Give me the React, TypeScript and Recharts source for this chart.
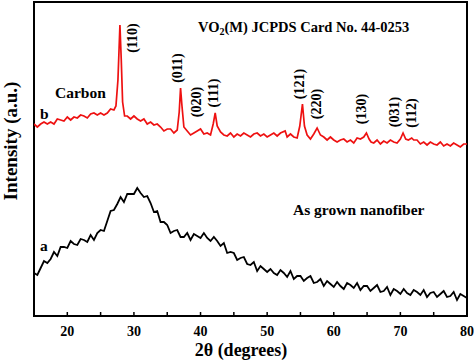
import React from 'react'
import { LineChart, Line, XAxis, YAxis, ReferenceDot, ReferenceArea } from 'recharts'

// 2θ positions and intensities (a.u.)
const carbonTheta = [
  15, 15.5, 16, 16.5, 17, 17.5, 18, 18.5, 19, 19.5, 20, 20.5, 21, 21.5, 22, 22.5, 23, 23.5, 24, 24.5,
  25, 25.5, 26, 26.5, 27, 27.3, 27.6, 27.9, 28.1, 28.3, 28.6, 29, 29.5, 30, 30.5, 31, 31.5, 32, 32.5, 33,
  33.5, 34, 34.5, 35, 35.5, 36, 36.5, 36.8, 37.0, 37.2, 37.5, 38, 38.5, 39, 39.5, 40, 40.5, 41, 41.5, 41.9,
  42.2, 42.5, 43, 43.5, 44, 44.5, 45, 45.5, 46, 46.5, 47, 47.5, 48, 48.5, 49, 49.5, 50, 50.5, 51, 51.5,
  52, 52.7, 53, 53.5, 54, 54.5, 54.9, 55.3, 55.6, 56, 56.5, 57, 57.5, 58, 58.5, 59, 59.5, 60, 60.5, 61,
  61.5, 62, 62.5, 63, 63.5, 64, 64.5, 64.9, 65.3, 65.6, 66, 66.5, 67, 67.5, 68, 68.5, 69, 69.5, 70, 70.4,
  70.8, 71.2, 71.7, 72, 72.5, 73, 73.5, 74, 74.5, 75, 75.5, 76, 76.5, 77, 77.5, 78, 78.5, 79, 79.5, 80,
]
const carbonIntensity = [
  192, 189, 192, 194, 192, 194, 192, 197, 196, 195, 199, 196, 199, 198, 201, 200, 198, 202, 203, 201,
  203, 201, 203, 207, 206, 210, 236, 291, 256, 214, 200, 200, 197, 200, 197, 195, 197, 192, 194, 191,
  192, 189, 185, 187, 187, 183, 186, 204, 228, 211, 189, 185, 181, 183, 185, 187, 182, 183, 181, 192,
  203, 190, 184, 181, 180, 183, 179, 182, 180, 183, 181, 179, 182, 183, 180, 182, 179, 181, 183, 180,
  183, 185, 179, 182, 179, 178, 190, 212, 190, 181, 177, 182, 188, 181, 179, 176, 179, 176, 174, 176,
  177, 174, 176, 173, 178, 177, 179, 183, 177, 174, 173, 176, 172, 175, 173, 176, 174, 173, 177, 183,
  177, 176, 178, 176, 176, 172, 174, 171, 174, 172, 171, 174, 170, 172, 170, 173, 171, 169, 172, 172,
]

const fiberTheta = [
  15, 15.5, 16, 16.5, 17, 17.5, 18, 18.5, 19, 19.5, 20, 20.5, 21, 21.5, 22, 22.5, 23, 23.5, 24, 24.5,
  25, 25.5, 26, 26.5, 27, 27.5, 28, 28.5, 29, 29.5, 30, 30.5, 31, 31.5, 32, 32.5, 33, 33.5, 34, 34.5,
  35, 35.5, 36, 36.5, 37, 37.5, 38, 38.5, 39, 39.5, 40, 40.5, 41, 41.5, 42, 42.5, 43, 43.5, 44, 44.5,
  45, 45.5, 46, 46.5, 47, 47.5, 48, 48.5, 49, 49.5, 50, 50.5, 51, 51.5, 52, 52.5, 53, 53.5, 54, 54.5,
  55, 55.5, 56, 56.5, 57, 57.5, 58, 58.5, 59, 59.5, 60, 60.5, 61, 61.5, 62, 62.5, 63, 63.5, 64, 64.5,
  65, 65.5, 66, 66.5, 67, 67.5, 68, 68.5, 69, 69.5, 70, 70.5, 71, 71.5, 72, 72.5, 73, 73.5, 74, 74.5,
  75, 75.5, 76, 76.5, 77, 77.5, 78, 78.5, 79, 79.5, 80,
]
const fiberIntensity = [
  43, 41, 48, 55, 53, 57, 64, 60, 69, 69, 68, 75, 72, 71, 77, 76, 74, 81, 76, 83,
  86, 85, 95, 105, 106, 112, 119, 114, 122, 122, 122, 128, 123, 119, 120, 113, 104, 105, 94, 94,
  91, 83, 85, 86, 79, 79, 83, 76, 82, 80, 78, 83, 78, 75, 79, 75, 70, 73, 63, 64,
  63, 56, 58, 59, 52, 51, 54, 45, 50, 47, 44, 47, 43, 41, 46, 43, 39, 45, 37, 40,
  40, 35, 38, 40, 33, 34, 37, 30, 35, 32, 29, 34, 30, 27, 33, 31, 28, 33, 26, 30,
  30, 25, 28, 31, 24, 25, 29, 21, 27, 25, 22, 27, 23, 21, 26, 24, 21, 26, 19, 23,
  24, 19, 22, 25, 19, 20, 24, 16, 22, 20, 18,
]

const xTicks = [20, 25, 30, 35, 40, 45, 50, 55, 60, 65, 70, 75, 80]

// Miller index labels: [label, 2θ, height]
const peakLabels: [string, number, number][] = [
  ['(110)', 29.86, 278],
  ['(011)', 36.47, 248],
  ['(020)', 39.32, 214],
  ['(111)', 42.02, 223],
  ['(121)', 54.93, 232],
  ['(220)', 57.48, 212],
  ['(130)', 64.23, 207],
  ['(031)', 69.19, 204],
  ['(112)', 71.74, 203],
]

const carbonData = carbonTheta.map((t, i) => ({ t, v: carbonIntensity[i] }))
const fiberData = fiberTheta.map((t, i) => ({ t, v: fiberIntensity[i] }))

const FONT = '"Liberation Serif", "Times New Roman", serif'

function BottomTick({ x, y, payload }: any) {
  const v = payload.value
  return (
    <g>
      <line x1={x} y1={y} x2={x} y2={y - 4} stroke="#000" strokeWidth={1.5} />
      {v % 10 === 0 && (
        <text x={x} y={y + 20} textAnchor="middle" fontFamily={FONT} fontWeight="bold" fontSize={14} fill="#000">
          {v}
        </text>
      )}
    </g>
  )
}

const textShape = (label: string, opts: { rotate?: boolean; size?: number } = {}) => (p: any) => (
  <text
    x={p.cx}
    y={p.cy}
    textAnchor={opts.rotate ? 'middle' : 'start'}
    dominantBaseline="central"
    transform={opts.rotate ? `rotate(-90, ${p.cx}, ${p.cy})` : undefined}
    fontFamily={FONT}
    fontWeight="bold"
    fontSize={opts.size ?? 14}
    fill="#000"
  >
    {label}
  </text>
)

const titleShape = (p: any) => (
  <text x={p.cx} y={p.cy} dominantBaseline="central" fontFamily={FONT} fontWeight="bold" fontSize={14.5} fill="#000">
    VO<tspan fontSize={10} dy={4}>2</tspan>
    <tspan dy={-4}>(M) JCPDS Card No. 44-0253</tspan>
  </text>
)

// axis titles, drawn together with the x axis label
const axisTitles = () => (
  <g>
    <text x={241} y={356} textAnchor="middle" fontFamily={FONT} fontWeight="bold" fontSize={18} fill="#000">
      2θ (degrees)
    </text>
    <text
      x={10}
      y={141}
      textAnchor="middle"
      dominantBaseline="central"
      transform="rotate(-90, 10, 141)"
      fontFamily={FONT}
      fontWeight="bold"
      fontSize={19}
      fill="#000"
    >
      Intensity (a.u.)
    </text>
  </g>
)

export default function App() {
  return (
    <div style={{ position: 'absolute', left: 0, top: 0, background: '#fff' }}>
      <LineChart width={474} height={361} margin={{ top: 2, right: 7, bottom: 15, left: 34 }}>
        <XAxis
          type="number"
          dataKey="t"
          domain={[15, 80]}
          ticks={xTicks}
          allowDataOverflow
          interval={0}
          height={30}
          tickSize={0}
          tickMargin={0}
          tickLine={false}
          tick={<BottomTick />}
          axisLine={{ stroke: '#000', strokeWidth: 2 }}
          label={{ content: axisTitles }}
        />
        <YAxis type="number" domain={[0, 314]} hide />
        <ReferenceArea x1={15} x2={80} y1={0} y2={314} fill="none" stroke="#000" strokeWidth={2} />
        <Line data={fiberData} dataKey="v" stroke="#000" strokeWidth={1.8} dot={false} isAnimationActive={false} />
        <Line data={carbonData} dataKey="v" stroke="#ee1111" strokeWidth={1.7} dot={false} isAnimationActive={false} />
        {peakLabels.map(([label, t, h]) => (
          <ReferenceDot key={label} x={t} y={h} r={0} shape={textShape(label, { rotate: true })} />
        ))}
        <ReferenceDot x={39.62} y={289} r={0} shape={titleShape} />
        <ReferenceDot x={18.15} y={224} r={0} shape={textShape('Carbon', { size: 15.5 })} />
        <ReferenceDot x={15.9} y={203} r={0} shape={textShape('b', { size: 15.5 })} />
        <ReferenceDot x={15.9} y={71} r={0} shape={textShape('a', { size: 15.5 })} />
        <ReferenceDot x={53.88} y={107} r={0} shape={textShape('As grown nanofiber', { size: 15.5 })} />
      </LineChart>
    </div>
  )
}
